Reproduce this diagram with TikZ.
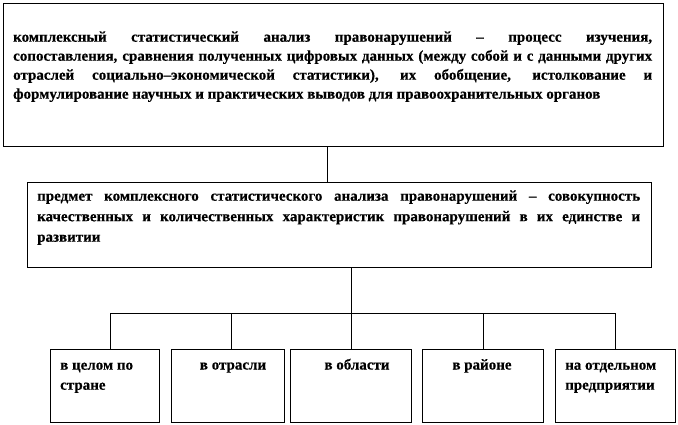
\documentclass[tikz,border=0pt]{standalone}
\usepackage{fontspec}
\setmainfont{Liberation Serif}[BoldFeatures={FakeBold=0.5}]
\begin{document}
\begin{tikzpicture}[x=1pt,y=-1pt,
  box/.style={draw=black, line width=0.7pt, inner sep=0pt, rectangle, anchor=north west},
  txt/.style={inner sep=0pt, font=\fontsize{15}{19}\selectfont\bfseries},
  conn/.style={draw=black, line width=0.7pt}]
\useasboundingbox (0,0) rectangle (678,424);
% boxes
\node[box, minimum width=660pt, minimum height=143pt] (top) at (3,3) {};
\node[box, minimum width=624pt, minimum height=85pt] (mid) at (27,182) {};
\node[box, minimum width=109pt, minimum height=73pt] (b1) at (50,349) {};
\node[box, minimum width=113pt, minimum height=73pt] (b2) at (171,349) {};
\node[box, minimum width=121pt, minimum height=73pt] (b3) at (290,349) {};
\node[box, minimum width=121pt, minimum height=73pt] (b4) at (422,349) {};
\node[box, minimum width=120pt, minimum height=73pt] (b5) at (555,349) {};
% texts
\node[txt, anchor=north west, text width=639pt, align=justify] (t0) at (13,30.5)
 {\hyphenpenalty=10000\rule{0pt}{11pt}комплексный статистический анализ правонарушений – процесс изучения, \linebreak
 сопоставления, сравнения полученных цифровых данных (между собой и с данными других \linebreak
 отраслей социально–экономической статистики), их обобщение, истолкование и \linebreak
 формулирование научных и практических выводов для правоохранительных органов};
\node[txt, font=\fontsize{15}{20.5}\selectfont\bfseries, anchor=north west, text width=603pt, align=justify] (tm) at (37,189.5)
 {\hyphenpenalty=10000\rule{0pt}{11pt}предмет комплексного статистического анализа правонарушений – совокупность \linebreak
 качественных и количественных характеристик правонарушений в их единстве и \linebreak
 развитии};
\node[txt, font=\fontsize{15}{20}\selectfont\bfseries, anchor=north west, align=left] (t1) at (60,358.5)
 {\rule{0pt}{11pt}в целом по\\стране};
\node[txt, anchor=base] (t2) at (233,369.5) {в отрасли};
\node[txt, anchor=base] (t3) at (357,369.5) {в области};
\node[txt, anchor=base] (t4) at (482,369.5) {в районе};
\node[txt, font=\fontsize{15}{20}\selectfont\bfseries, anchor=north west, align=left] (t5) at (565,358.5)
 {\rule{0pt}{11pt}на отдельном\\предприятии};
% connectors
\coordinate (k1) at (327,0);
\coordinate (k2) at (351,313);
\coordinate (bus1) at (110,313);
\coordinate (bus2) at (231,313);
\coordinate (bus3) at (351,313);
\coordinate (bus4) at (483,313);
\coordinate (bus5) at (615,313);
\draw[conn] (top.south -| k1) -- (mid.north -| k1);
\draw[conn] (mid.south -| k2) -- (k2);
\draw[conn] (bus1) -- (bus5);
\draw[conn] (bus1) -- (b1.north -| bus1);
\draw[conn] (bus2) -- (b2.north -| bus2);
\draw[conn] (bus3) -- (b3.north -| bus3);
\draw[conn] (bus4) -- (b4.north -| bus4);
\draw[conn] (bus5) -- (b5.north -| bus5);
\end{tikzpicture}
\end{document}
